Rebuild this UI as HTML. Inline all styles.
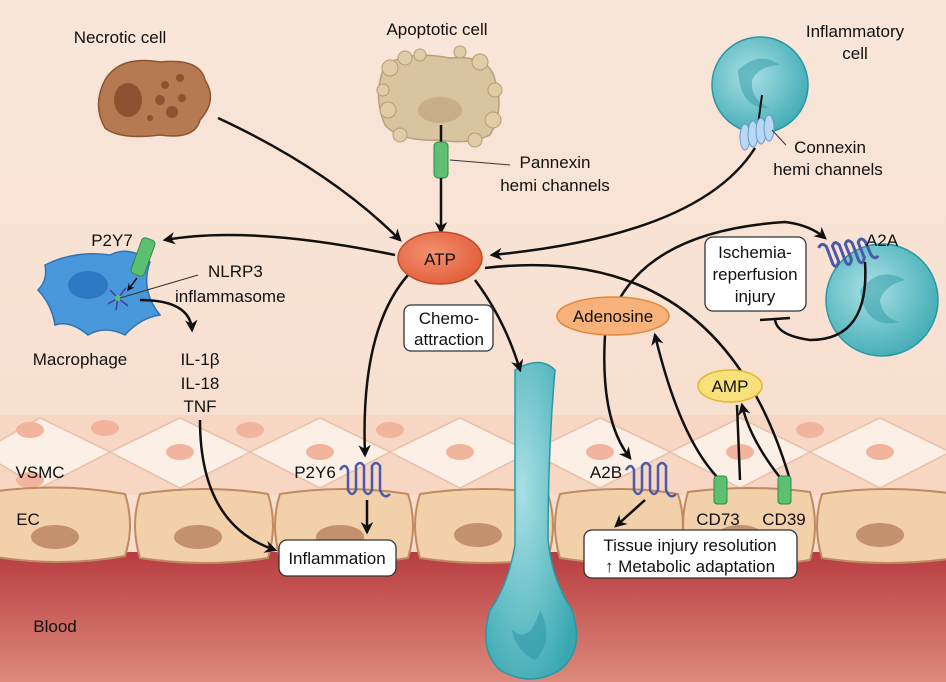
<!DOCTYPE html>
<html><head><meta charset="utf-8"><style>
html,body{margin:0;padding:0;background:#f8e4d6}
svg{display:block}
text{font-family:"Liberation Sans",sans-serif;font-size:17px;fill:#111}
</style></head><body>
<svg width="946" height="682" viewBox="0 0 946 682" xmlns="http://www.w3.org/2000/svg">
<defs>
<linearGradient id="bg" x1="0" y1="0" x2="0" y2="1"><stop offset="0" stop-color="#f9e6da"/><stop offset="1" stop-color="#f6dcc9"/></linearGradient>
<linearGradient id="bl" x1="0" y1="0" x2="0" y2="1"><stop offset="0" stop-color="#b83c40"/><stop offset="1" stop-color="#dc8a7c"/></linearGradient>
<radialGradient id="teal" cx="0.4" cy="0.4" r="0.7"><stop offset="0" stop-color="#a8e0e4"/><stop offset="1" stop-color="#3aa8b2"/></radialGradient>
<radialGradient id="atp" cx="0.4" cy="0.4" r="0.7"><stop offset="0" stop-color="#f49070"/><stop offset="1" stop-color="#e05a36"/></radialGradient>
<marker id="ah" viewBox="0 0 10 10" refX="8" refY="5" markerWidth="5" markerHeight="5" orient="auto"><path d="M0,0 L10,5 L0,10 L3,5z" fill="#111"/></marker>
</defs>
<rect width="946" height="682" fill="url(#bg)"/>
<rect y="415" width="946" height="80" fill="#f7d6c4"/>
<g fill="#fcefe6" stroke="#e8c0aa" stroke-width="1.5">
<path d="M-20,452 L40,418 L110,452 L40,488z"/><path d="M110,452 L180,418 L250,452 L180,488z"/>
<path d="M250,452 L320,418 L390,452 L320,488z"/><path d="M390,452 L460,418 L530,452 L460,488z"/>
<path d="M530,452 L600,418 L670,452 L600,488z"/><path d="M670,452 L740,418 L810,452 L740,488z"/>
<path d="M810,452 L880,418 L950,452 L880,488z"/>
</g>
<g fill="#f2b49c">
<ellipse cx="30" cy="430" rx="14" ry="8"/><ellipse cx="105" cy="428" rx="14" ry="8"/><ellipse cx="180" cy="452" rx="14" ry="8"/>
<ellipse cx="250" cy="430" rx="14" ry="8"/><ellipse cx="320" cy="452" rx="14" ry="8"/><ellipse cx="460" cy="452" rx="14" ry="8"/>
<ellipse cx="600" cy="452" rx="14" ry="8"/><ellipse cx="740" cy="452" rx="14" ry="8"/><ellipse cx="880" cy="452" rx="14" ry="8"/>
<ellipse cx="30" cy="480" rx="14" ry="8"/><ellipse cx="390" cy="430" rx="14" ry="8"/><ellipse cx="810" cy="430" rx="14" ry="8"/>
</g>
<rect y="552" width="946" height="130" fill="url(#bl)"/>
<g fill="#f1d0aa" stroke="#c08a60" stroke-width="2">
<path d="M-10,492 Q60,482 125,494 Q135,525 125,556 Q60,568 -10,556z"/>
<path d="M140,494 Q205,484 268,494 Q278,525 268,558 Q205,568 140,558 Q130,525 140,494z"/>
<path d="M280,494 Q345,484 408,494 Q418,525 408,558 Q345,568 280,558 Q270,525 280,494z"/>
<path d="M420,494 Q485,484 548,494 Q558,525 548,558 Q485,568 420,558 Q410,525 420,494z"/>
<path d="M560,494 Q620,484 678,494 Q688,525 678,558 Q620,568 560,558 Q550,525 560,494z"/>
<path d="M688,492 Q750,484 810,492 Q820,525 810,560 Q750,570 688,560 Q678,525 688,492z"/>
<path d="M822,494 Q885,484 956,494 L956,558 Q885,568 822,558 Q812,525 822,494z"/>
</g>
<g fill="#c4916e"><ellipse cx="55" cy="537" rx="24" ry="12"/><ellipse cx="198" cy="537" rx="24" ry="12"/><ellipse cx="340" cy="537" rx="24" ry="12"/><ellipse cx="478" cy="535" rx="24" ry="12"/><ellipse cx="740" cy="537" rx="24" ry="12"/><ellipse cx="880" cy="535" rx="24" ry="12"/></g>
<path d="M515,370 Q540,355 555,370 Q548,450 548,540 Q552,580 572,610 Q585,650 560,670 Q530,688 500,670 Q478,650 490,610 Q508,585 515,545 Q515,450 515,370z" fill="url(#teal)" stroke="#2a98a4" stroke-width="1.5"/>
<path d="M540,610 Q555,640 535,660 Q515,650 512,630 Q530,645 540,610z" fill="#2e9aa6" opacity="0.6"/>
<path d="M105,80 Q120,55 160,62 Q200,58 205,80 Q218,100 200,120 Q195,140 160,135 Q120,140 105,128 Q92,105 105,80z" fill="#b57a52" stroke="#8a5530" stroke-width="1.5"/>
<ellipse cx="128" cy="100" rx="14" ry="17" fill="#8e5232"/>
<g fill="#8e5232"><circle cx="165" cy="85" r="4"/><circle cx="180" cy="78" r="4"/><circle cx="160" cy="100" r="5"/><circle cx="182" cy="98" r="4"/><circle cx="172" cy="112" r="6"/><circle cx="150" cy="118" r="3"/></g>
<path d="M385,65 Q410,50 450,58 Q490,55 495,80 Q505,110 490,135 Q470,145 440,140 Q400,142 385,125 Q372,95 385,65z" fill="#d8c4a0" stroke="#b8a07a" stroke-width="1.5"/>
<g fill="#e0cca6" stroke="#b49c76" stroke-width="1"><circle cx="390" cy="68" r="8"/><circle cx="405" cy="58" r="7"/><circle cx="480" cy="62" r="8"/><circle cx="495" cy="90" r="7"/><circle cx="493" cy="120" r="8"/><circle cx="475" cy="140" r="7"/><circle cx="388" cy="110" r="8"/><circle cx="400" cy="135" r="7"/><circle cx="420" cy="55" r="6"/><circle cx="460" cy="52" r="6"/><circle cx="383" cy="90" r="6"/></g>
<ellipse cx="440" cy="110" rx="22" ry="13" fill="#c8ae88"/>
<line x1="441" y1="125" x2="441" y2="145" stroke="#111" stroke-width="2.5"/>
<rect x="434" y="142" width="14" height="36" rx="4" fill="#5cc070" stroke="#2f8a44"/>
<line x1="441" y1="178" x2="441" y2="232" stroke="#111" stroke-width="2.5" marker-end="url(#ah)"/>
<line x1="450" y1="160" x2="510" y2="165" stroke="#333" stroke-width="1"/>
<circle cx="760" cy="85" r="48" fill="url(#teal)" stroke="#2a98a4" stroke-width="1.5"/>
<path d="M738,70 Q760,50 780,65 Q760,65 752,80 Q750,100 770,108 Q740,110 738,70z" fill="#2e9aa6" opacity="0.5"/>
<line x1="762" y1="95" x2="758" y2="125" stroke="#111" stroke-width="2"/>
<g fill="#b8d8f4" stroke="#6a98c8"><ellipse cx="745" cy="137" rx="5" ry="13"/><ellipse cx="753" cy="134" rx="5" ry="13"/><ellipse cx="761" cy="131" rx="5" ry="13"/><ellipse cx="769" cy="128" rx="5" ry="13"/></g>
<line x1="772" y1="130" x2="786" y2="145" stroke="#333" stroke-width="1"/>
<path d="M45,265 Q75,250 110,255 Q130,245 150,262 Q140,290 160,315 Q140,318 125,335 Q105,325 88,335 Q70,320 55,325 Q52,305 38,290 Q48,280 45,265z" fill="#4a98dc" stroke="#2e72b4" stroke-width="1.5"/>
<ellipse cx="88" cy="285" rx="20" ry="14" fill="#2e78c4"/>
<rect x="136" y="238" width="14" height="38" rx="4" transform="rotate(20 143 257)" fill="#5cc070" stroke="#2f8a44"/>
<g stroke="#4a3aa0" stroke-width="1.5"><line x1="118" y1="298" x2="110" y2="290"/><line x1="118" y1="298" x2="126" y2="288"/><line x1="118" y1="298" x2="108" y2="304"/><line x1="118" y1="298" x2="128" y2="306"/><line x1="118" y1="298" x2="116" y2="310"/></g>
<circle cx="118" cy="298" r="3" fill="#5cc070"/>
<line x1="120" y1="298" x2="198" y2="275" stroke="#333" stroke-width="1"/>
<path d="M137,278 L128,290" stroke="#111" stroke-width="1.5" marker-end="url(#ah)"/>
<circle cx="882" cy="300" r="56" fill="url(#teal)" stroke="#2a98a4" stroke-width="1.5"/>
<path d="M860,290 Q880,265 905,280 Q885,285 880,300 Q882,318 900,322 Q865,330 860,290z" fill="#2e9aa6" opacity="0.5"/>
<g transform="translate(818,244) rotate(-8)">
<path d="M0,4 Q4,-2 8,4 L12,22 Q15,28 18,20 L14,4 Q17,-2 21,4 L25,22 Q28,28 31,20 L27,4 Q30,-2 34,4 L38,22 Q41,28 44,20 L40,4 Q43,-2 47,4 L51,18 Q54,24 58,20" fill="none" stroke="#4a5aa8" stroke-width="3"/>
</g>
<g fill="none" stroke="#111" stroke-width="2.5">
<path d="M218,118 Q330,170 400,240" marker-end="url(#ah)"/>
<path d="M755,148 Q700,235 492,255" marker-end="url(#ah)"/>
<path d="M395,255 Q250,225 165,240" marker-end="url(#ah)"/>
<path d="M140,300 Q190,300 192,330" marker-end="url(#ah)"/>
<path d="M200,420 Q200,525 275,550" marker-end="url(#ah)"/>
<path d="M408,275 Q360,330 365,455" marker-end="url(#ah)"/>
<path d="M475,280 Q505,320 520,370" marker-end="url(#ah)"/>
<path d="M485,268 Q720,240 790,480"/>
<path d="M620,298 Q660,230 785,222 Q810,225 825,238" marker-end="url(#ah)"/>
<path d="M605,335 Q600,420 630,458" marker-end="url(#ah)"/>
<path d="M720,480 Q680,440 655,335" marker-end="url(#ah)"/>
<path d="M782,480 Q750,440 742,405" marker-end="url(#ah)"/>
<path d="M740,480 L737,405"/>
<path d="M367,500 L367,532" marker-end="url(#ah)"/>
<path d="M645,500 L616,526" marker-end="url(#ah)"/>
<path d="M865,262 Q870,340 810,340 Q775,335 775,318"/>
<line x1="760" y1="320" x2="790" y2="318"/>
</g>
<path d="M340,470 Q345,462 348,470 L348,490 Q352,498 356,490 L356,466 Q360,460 364,466 L364,490 Q368,498 372,490 L372,466 Q376,460 380,466 L380,490 Q384,500 390,494" fill="none" stroke="#4a5aa8" stroke-width="2.5"/>
<path d="M626,470 Q631,462 634,470 L634,490 Q638,498 642,490 L642,466 Q646,460 650,466 L650,490 Q654,498 658,490 L658,466 Q662,460 666,466 L666,490 Q670,500 676,494" fill="none" stroke="#4a5aa8" stroke-width="2.5"/>
<rect x="714" y="476" width="13" height="28" rx="3" fill="#5cc070" stroke="#2f8a44"/>
<rect x="778" y="476" width="13" height="28" rx="3" fill="#5cc070" stroke="#2f8a44"/>
<ellipse cx="440" cy="258" rx="42" ry="26" fill="url(#atp)" stroke="#c04a2a" stroke-width="1.5"/>
<text x="440" y="265" text-anchor="middle" font-size="19">ATP</text>
<ellipse cx="613" cy="316" rx="56" ry="19" fill="#f6b27a" stroke="#e08a40" stroke-width="1.5"/>
<text x="613" y="322" text-anchor="middle">Adenosine</text>
<ellipse cx="730" cy="386" rx="32" ry="16" fill="#f8e07c" stroke="#e0b830" stroke-width="1.5"/>
<text x="730" y="392" text-anchor="middle">AMP</text>
<g fill="#fff" stroke="#333" stroke-width="1.3">
<rect x="404" y="305" width="89" height="46" rx="7"/>
<rect x="705" y="237" width="101" height="74" rx="8"/>
<rect x="279" y="540" width="117" height="36" rx="8"/>
<rect x="584" y="530" width="213" height="48" rx="8"/>
</g>
<text x="449" y="324" text-anchor="middle">Chemo-</text><text x="449" y="345" text-anchor="middle">attraction</text>
<text x="755" y="258" text-anchor="middle">Ischemia-</text><text x="755" y="280" text-anchor="middle">reperfusion</text><text x="755" y="302" text-anchor="middle">injury</text>
<text x="337" y="564" text-anchor="middle">Inflammation</text>
<text x="690" y="551" text-anchor="middle">Tissue injury resolution</text><text x="690" y="572" text-anchor="middle">↑ Metabolic adaptation</text>
<text x="120" y="43" text-anchor="middle">Necrotic cell</text>
<text x="437" y="35" text-anchor="middle">Apoptotic cell</text>
<text x="855" y="37" text-anchor="middle">Inflammatory</text><text x="855" y="59" text-anchor="middle">cell</text>
<text x="830" y="153" text-anchor="middle">Connexin</text><text x="828" y="175" text-anchor="middle">hemi channels</text>
<text x="555" y="168" text-anchor="middle">Pannexin</text><text x="555" y="191" text-anchor="middle">hemi channels</text>
<text x="112" y="246" text-anchor="middle">P2Y7</text>
<text x="208" y="277">NLRP3</text><text x="175" y="302">inflammasome</text>
<text x="80" y="365" text-anchor="middle">Macrophage</text>
<text x="200" y="365" text-anchor="middle">IL-1β</text><text x="200" y="389" text-anchor="middle">IL-18</text><text x="200" y="412" text-anchor="middle">TNF</text>
<text x="882" y="246" text-anchor="middle">A2A</text>
<text x="315" y="478" text-anchor="middle">P2Y6</text>
<text x="606" y="478" text-anchor="middle">A2B</text>
<text x="718" y="525" text-anchor="middle">CD73</text><text x="784" y="525" text-anchor="middle">CD39</text>
<text x="40" y="478" text-anchor="middle">VSMC</text>
<text x="28" y="525" text-anchor="middle">EC</text>
<text x="55" y="632" text-anchor="middle" font-size="19">Blood</text>
</svg>
</body></html>
